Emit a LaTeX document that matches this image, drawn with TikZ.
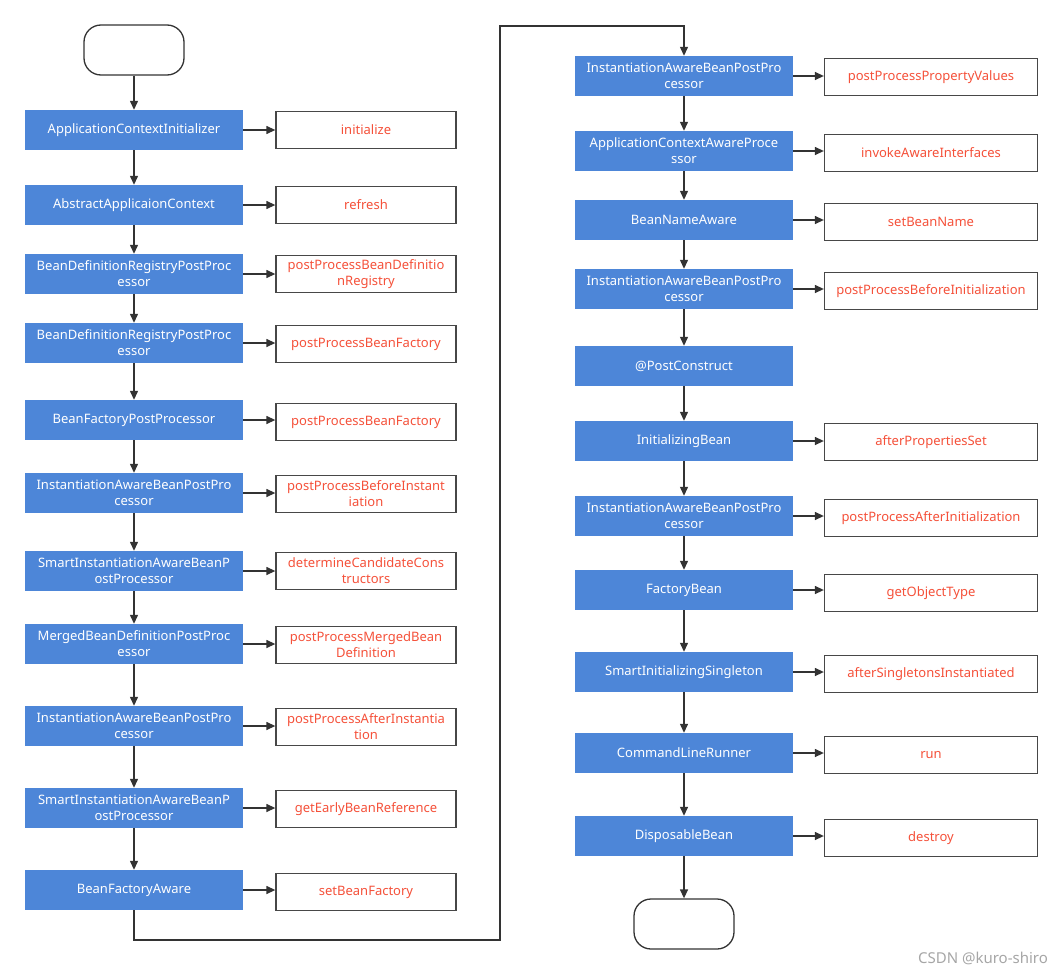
\documentclass[tikz,border=0pt]{standalone}
\usepackage{fontspec}
\setmainfont{Noto Sans}
\usetikzlibrary{arrows.meta}

\definecolor{stepblue}{HTML}{4D86D8}
\definecolor{methodred}{HTML}{F5513A}
\definecolor{linegray}{HTML}{333333}

\tikzset{
  stepbox/.style={fill=stepblue, draw=none, text=white, minimum width=218pt,
    minimum height=40pt, align=center, inner sep=2pt,
    font=\fontsize{13}{16}\selectfont},
  methodbox/.style={draw=linegray!90, line width=1.3pt, fill=white, text=methodred,
    minimum width=#1, minimum height=37pt, align=center, inner sep=2pt,
    font=\fontsize{13}{16}\selectfont},
  methodbox/.default=180pt,
  terminal/.style={draw=linegray, line width=1.3pt, rounded corners=17pt,
    minimum width=100pt, minimum height=50pt},
  flow/.style={draw=linegray, line width=1.3pt, -{Triangle[length=9pt,width=8pt]}}
}

\begin{document}
\begin{tikzpicture}[x=1pt,y=-1pt]
	\useasboundingbox (0,0) rectangle (1063,974);
	%\draw[very thin,color=gray] (0,0) grid[step=50] (1063,974);
	% left column
	\node[terminal] (start) at (134,50) {};
	\node[stepbox] (l1) at (134,130) {ApplicationContextInitializer};
	\node[stepbox] (l2) at (134,205) {AbstractApplicaionContext};
	\node[stepbox] (l3) at (134,274) {BeanDefinitionRegistryPostProc\\essor};
	\node[stepbox] (l4) at (134,343) {BeanDefinitionRegistryPostProc\\essor};
	\node[stepbox] (l5) at (134,420) {BeanFactoryPostProcessor};
	\node[stepbox] (l6) at (134,493) {InstantiationAwareBeanPostPro\\cessor};
	\node[stepbox] (l7) at (134,571) {SmartInstantiationAwareBeanP\\ostProcessor};
	\node[stepbox] (l8) at (134,644) {MergedBeanDefinitionPostProc\\essor};
	\node[stepbox] (l9) at (134,726) {InstantiationAwareBeanPostPro\\cessor};
	\node[stepbox] (l10) at (134,808) {SmartInstantiationAwareBeanP\\ostProcessor};
	\node[stepbox] (l11) at (134,890) {BeanFactoryAware};

	\node[methodbox] (m1) at (366,130) {initialize};
	\node[methodbox] (m2) at (366,205) {refresh};
	\node[methodbox] (m3) at (366,274) {postProcessBeanDefinitio\\nRegistry};
	\node[methodbox] (m4) at (366,344) {postProcessBeanFactory};
	\node[methodbox] (m5) at (366,422) {postProcessBeanFactory};
	\node[methodbox] (m6) at (366,494) {postProcessBeforeInstant\\iation};
	\node[methodbox] (m7) at (366,571) {determineCandidateCons\\tructors};
	\node[methodbox] (m8) at (366,645) {postProcessMergedBean\\Definition};
	\node[methodbox] (m9) at (366,727) {postProcessAfterInstantia\\tion};
	\node[methodbox] (m10) at (366,809) {getEarlyBeanReference};
	\node[methodbox] (m11) at (366,892) {setBeanFactory};

	% right column
	\node[stepbox] (r1) at (684,76) {InstantiationAwareBeanPostPro\\cessor};
	\node[stepbox] (r2) at (684,151) {ApplicationContextAwareProce\\ssor};
	\node[stepbox] (r3) at (684,220) {BeanNameAware};
	\node[stepbox] (r4) at (684,289) {InstantiationAwareBeanPostPro\\cessor};
	\node[stepbox] (r5) at (684,366) {@PostConstruct};
	\node[stepbox] (r6) at (684,441) {InitializingBean};
	\node[stepbox] (r7) at (684,516) {InstantiationAwareBeanPostPro\\cessor};
	\node[stepbox] (r8) at (684,590) {FactoryBean};
	\node[stepbox] (r9) at (684,672) {SmartInitializingSingleton};
	\node[stepbox] (r10) at (684,753) {CommandLineRunner};
	\node[stepbox] (r11) at (684,836) {DisposableBean};
	\node[terminal] (stop) at (684,924) {};

	\node[methodbox=213pt] (n1) at (931,77) {postProcessPropertyValues};
	\node[methodbox=213pt] (n2) at (931,153) {invokeAwareInterfaces};
	\node[methodbox=213pt] (n3) at (931,222) {setBeanName};
	\node[methodbox=213pt] (n4) at (931,291) {postProcessBeforeInitialization};
	\node[methodbox=213pt] (n6) at (931,442) {afterPropertiesSet};
	\node[methodbox=213pt] (n7) at (931,518) {postProcessAfterInitialization};
	\node[methodbox=213pt] (n8) at (931,593) {getObjectType};
	\node[methodbox=213pt] (n9) at (931,674) {afterSingletonsInstantiated};
	\node[methodbox=213pt] (n10) at (931,755) {run};
	\node[methodbox=213pt] (n11) at (931,838) {destroy};

	\node[text=gray!70, font=\fontsize{15}{18}\selectfont] (mark) at (983,958) {CSDN @kuro-shiro};

	% connectors
	\draw[flow] (start) -- (l1);
	\foreach \a/\b in {1/2,2/3,3/4,4/5,5/6,6/7,7/8,8/9,9/10,10/11}
		\draw[flow] (l\a) -- (l\b);
	\foreach \i in {1,...,11}
		\draw[flow] (l\i.east) -- (l\i.east -| m\i.west);
	\draw[flow] (l11.south) -- (l11.south |- 0,940) -| (500,26) -| (r1.north);
	\foreach \a/\b in {1/2,2/3,3/4,4/5,5/6,6/7,7/8,8/9,9/10,10/11}
		\draw[flow] (r\a) -- (r\b);
	\draw[flow] (r11) -- (stop);
	\foreach \i in {1,2,3,4,6,7,8,9,10,11}
		\draw[flow] (r\i.east) -- (r\i.east -| n\i.west);
\end{tikzpicture}
\end{document}
